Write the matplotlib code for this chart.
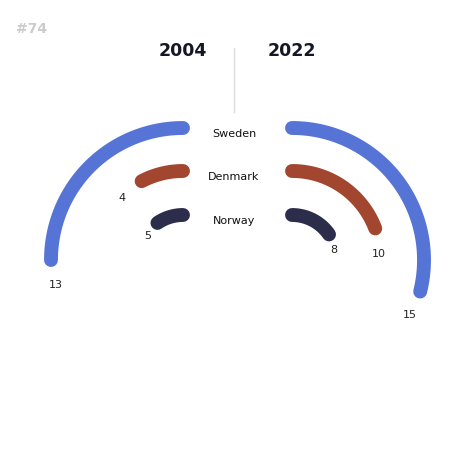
import numpy as np
import matplotlib.pyplot as plt

# Data
countries = ['Sweden', 'Denmark', 'Norway']
years = ['2004', '2022']
v2004 = [13, 4, 5]
v2022 = [15, 10, 8]
badge = '#74'

colors = ['#5574d6', '#a3462f', '#2b2d4b']
radii = [132, 89, 45]          # ring radius in px
label_pad = [11, 17, 21]       # angular pad for value labels (deg)
deg_per_unit = 90 / 13

# centres of the two half fans (pixel coords, y down)
cx_left, cx_right, cy = 183, 292, 260

fig = plt.figure(figsize=(4.74, 4.74), dpi=100)
ax = fig.add_axes([0, 0, 1, 1])
ax.set_xlim(0, 474)
ax.set_ylim(474, 0)
ax.axis('off')


def arc(cx, r, value, side):
    t = np.radians(np.linspace(0, value * deg_per_unit, 100))
    x = cx + side * r * np.sin(t)
    y = cy - r * np.cos(t)
    return x, y


for i, name in enumerate(countries):
    r = radii[i]
    for cx, vals, side in [(cx_left, v2004, -1), (cx_right, v2022, 1)]:
        x, y = arc(cx, r, vals[i], side)
        ax.plot(x, y, color=colors[i], lw=10, solid_capstyle='round')
        t = np.radians(vals[i] * deg_per_unit + label_pad[i])
        ax.text(cx + side * (r - 2) * np.sin(t), cy - (r - 2) * np.cos(t),
                str(vals[i]), ha='center', va='center', fontsize=8,
                color='#222222')
    ax.text(234, cy - r + 6, name, ha='center', va='center', fontsize=8,
            color='#111111')

# year headers and divider
ax.text(cx_left, 51, years[0], ha='center', va='center', fontsize=12.5,
        fontweight='bold', color='#141826')
ax.text(cx_right, 51, years[1], ha='center', va='center', fontsize=12.5,
        fontweight='bold', color='#141826')
ax.plot([234, 234], [48, 112], color='#dddddd', lw=1)

ax.text(16, 29, badge, ha='left', va='center', fontsize=10,
        fontweight='bold', color='#cccccc')

plt.savefig('out.png', dpi=100)
